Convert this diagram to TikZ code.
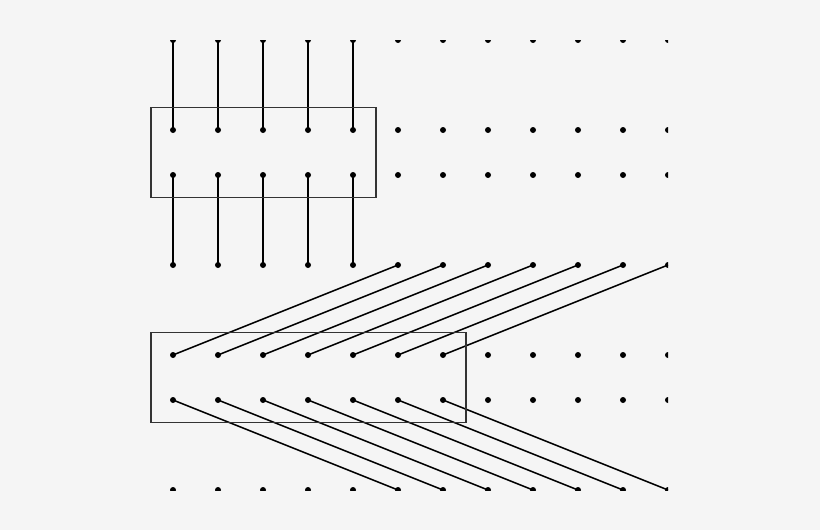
\documentclass[tikz,border=0pt]{standalone}
\begin{document}
\begin{tikzpicture}[x=1pt,y=-1pt,
  dot/.style={circle,fill=black,inner sep=0pt,minimum size=6pt},
  link/.style={line width=1.5pt,black},
  frame/.style={line width=1.3pt,draw=black!80}]
\fill[black!4] (0,0) rectangle (820,530);
\useasboundingbox (0,0) rectangle (820,530);
\begin{scope}
\clip (140,40) rectangle (668,490);
\foreach \r/\y in {1/40,2/130,3/175,4/265,5/355,6/400,7/490}{
  \foreach \c in {1,...,12}{
    \node[dot] (d-\r-\c) at ({173+45*(\c-1)},\y) {};
  }
}
\foreach \c in {1,...,5}{
  \draw[link] (d-1-\c.center) -- (d-2-\c.center);
  \draw[link] (d-3-\c.center) -- (d-4-\c.center);
}
\foreach \c [evaluate=\c as \t using int(\c+5)] in {1,...,7}{
  \draw[link] (d-5-\c.center) -- (d-4-\t.center);
  \draw[link] (d-6-\c.center) -- (d-7-\t.center);
}
\node[frame,fit/.style={},minimum width=225pt,minimum height=90pt,inner sep=0pt] (boxA) at (263.5,152.5) {};
\node[frame,minimum width=315pt,minimum height=90pt,inner sep=0pt] (boxB) at (308.5,377.5) {};
\end{scope}
\end{tikzpicture}
\end{document}
